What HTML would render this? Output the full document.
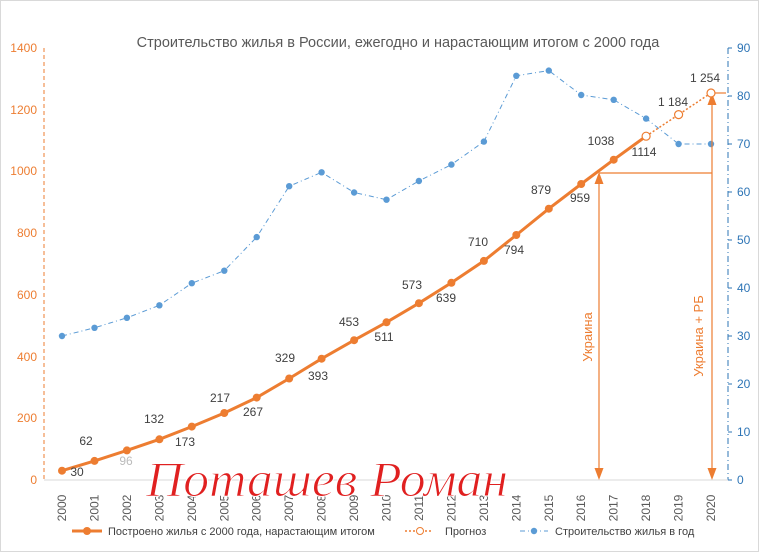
<!DOCTYPE html>
<html><head><meta charset="utf-8"><style>body{margin:0;background:#fff}svg{display:block}</style></head><body>
<svg width="759" height="552" viewBox="0 0 759 552" xmlns="http://www.w3.org/2000/svg" font-family="Liberation Sans, sans-serif">
<rect x="0.5" y="0.5" width="758" height="551" fill="#fff" stroke="#d9d9d9"/>
<text x="398" y="47" text-anchor="middle" font-size="14.5" fill="#595959">Строительство жилья в России, ежегодно и нарастающим итогом с 2000 года</text>
<line x1="44" y1="48" x2="44" y2="480" stroke="#ED7D31" stroke-dasharray="4,3"/>
<line x1="728" y1="48" x2="728" y2="480" stroke="#2E75B6" stroke-dasharray="6,3,1,3"/>
<line x1="44" y1="480" x2="728" y2="480" stroke="#d9d9d9"/>
<g font-size="12" fill="#ED7D31" text-anchor="end">
<text x="37" y="52">1400</text><text x="37" y="114">1200</text><text x="37" y="175">1000</text><text x="37" y="237">800</text><text x="37" y="299">600</text><text x="37" y="361">400</text><text x="37" y="422">200</text><text x="37" y="484">0</text>
</g>
<g font-size="12" fill="#2E75B6">
<text x="737" y="52">90</text><text x="737" y="100">80</text><text x="737" y="148">70</text><text x="737" y="196">60</text><text x="737" y="244">50</text><text x="737" y="292">40</text><text x="737" y="340">30</text><text x="737" y="388">20</text><text x="737" y="436">10</text><text x="737" y="484">0</text>
</g>
<g stroke="#2E75B6"><line x1="728" y1="48" x2="732" y2="48"/><line x1="728" y1="96" x2="732" y2="96"/><line x1="728" y1="144" x2="732" y2="144"/><line x1="728" y1="192" x2="732" y2="192"/><line x1="728" y1="240" x2="732" y2="240"/><line x1="728" y1="288" x2="732" y2="288"/><line x1="728" y1="336" x2="732" y2="336"/><line x1="728" y1="384" x2="732" y2="384"/><line x1="728" y1="432" x2="732" y2="432"/><line x1="728" y1="480" x2="732" y2="480"/></g>
<g font-size="12" fill="#595959" text-anchor="middle">
<text transform="translate(66,508) rotate(-90)">2000</text><text transform="translate(98.5,508) rotate(-90)">2001</text><text transform="translate(131,508) rotate(-90)">2002</text><text transform="translate(163.4,508) rotate(-90)">2003</text><text transform="translate(195.8,508) rotate(-90)">2004</text><text transform="translate(228.3,508) rotate(-90)">2005</text><text transform="translate(260.7,508) rotate(-90)">2006</text><text transform="translate(293.2,508) rotate(-90)">2007</text><text transform="translate(325.6,508) rotate(-90)">2008</text><text transform="translate(358.1,508) rotate(-90)">2009</text><text transform="translate(390.5,508) rotate(-90)">2010</text><text transform="translate(422.9,508) rotate(-90)">2011</text><text transform="translate(455.4,508) rotate(-90)">2012</text><text transform="translate(487.9,508) rotate(-90)">2013</text><text transform="translate(520.3,508) rotate(-90)">2014</text><text transform="translate(552.8,508) rotate(-90)">2015</text><text transform="translate(585.2,508) rotate(-90)">2016</text><text transform="translate(617.7,508) rotate(-90)">2017</text><text transform="translate(650.1,508) rotate(-90)">2018</text><text transform="translate(682.6,508) rotate(-90)">2019</text><text transform="translate(715,508) rotate(-90)">2020</text>
</g>
<polyline fill="none" stroke="#5B9BD5" stroke-width="1" stroke-dasharray="5,3,1,3" points="62,336 94.5,327.8 126.9,317.8 159.4,305.3 191.8,283.2 224.3,270.7 256.7,237.1 289.2,186.2 321.6,172.3 354.1,192.5 386.5,199.7 418.9,181 451.4,164.6 483.9,141.6 516.3,75.8 548.8,70.6 581.2,95 613.7,99.8 646.1,118.6 678.6,144 711,144"/>
<g fill="#5B9BD5"><circle cx="62" cy="336" r="3.2"/><circle cx="94.5" cy="327.8" r="3.2"/><circle cx="126.9" cy="317.8" r="3.2"/><circle cx="159.4" cy="305.3" r="3.2"/><circle cx="191.8" cy="283.2" r="3.2"/><circle cx="224.3" cy="270.7" r="3.2"/><circle cx="256.7" cy="237.1" r="3.2"/><circle cx="289.2" cy="186.2" r="3.2"/><circle cx="321.6" cy="172.3" r="3.2"/><circle cx="354.1" cy="192.5" r="3.2"/><circle cx="386.5" cy="199.7" r="3.2"/><circle cx="418.9" cy="181" r="3.2"/><circle cx="451.4" cy="164.6" r="3.2"/><circle cx="483.9" cy="141.6" r="3.2"/><circle cx="516.3" cy="75.8" r="3.2"/><circle cx="548.8" cy="70.6" r="3.2"/><circle cx="581.2" cy="95" r="3.2"/><circle cx="613.7" cy="99.8" r="3.2"/><circle cx="646.1" cy="118.6" r="3.2"/><circle cx="678.6" cy="144" r="3.2"/><circle cx="711" cy="144" r="3.2"/></g>
<g stroke="#ED7D31" stroke-width="1.2" fill="none">
<line x1="599" y1="180" x2="599" y2="472"/><line x1="599" y1="173" x2="712" y2="173"/>
<line x1="712" y1="100" x2="712" y2="472"/><line x1="712" y1="93" x2="726" y2="93"/>
</g>
<g fill="#ED7D31">
<polygon points="599,172 594.5,184 603.5,184"/><polygon points="599,480 594.5,468 603.5,468"/>
<polygon points="712,93 707.5,105 716.5,105"/><polygon points="712,480 707.5,468 716.5,468"/>
</g>
<text transform="translate(592,337) rotate(-90)" text-anchor="middle" font-size="13" fill="#ED7D31">Украина</text>
<text transform="translate(703,336) rotate(-90)" text-anchor="middle" font-size="13" fill="#ED7D31">Украина + РБ</text>
<polyline fill="none" stroke="#ED7D31" stroke-width="3" points="62,470.7 94.5,460.9 126.9,450.4 159.4,439.3 191.8,426.6 224.3,413 256.7,397.6 289.2,378.5 321.6,358.7 354.1,340.2 386.5,322.3 418.9,303.2 451.4,282.8 483.9,260.9 516.3,235 548.8,208.7 581.2,184 613.7,159.7 646.1,136.2"/>
<polyline fill="none" stroke="#ED7D31" stroke-width="1.5" stroke-dasharray="2,2" points="646.1,136.2 678.6,114.6 711,93"/>
<g fill="#ED7D31"><circle cx="62" cy="470.7" r="4"/><circle cx="94.5" cy="460.9" r="4"/><circle cx="126.9" cy="450.4" r="4"/><circle cx="159.4" cy="439.3" r="4"/><circle cx="191.8" cy="426.6" r="4"/><circle cx="224.3" cy="413" r="4"/><circle cx="256.7" cy="397.6" r="4"/><circle cx="289.2" cy="378.5" r="4"/><circle cx="321.6" cy="358.7" r="4"/><circle cx="354.1" cy="340.2" r="4"/><circle cx="386.5" cy="322.3" r="4"/><circle cx="418.9" cy="303.2" r="4"/><circle cx="451.4" cy="282.8" r="4"/><circle cx="483.9" cy="260.9" r="4"/><circle cx="516.3" cy="235" r="4"/><circle cx="548.8" cy="208.7" r="4"/><circle cx="581.2" cy="184" r="4"/><circle cx="613.7" cy="159.7" r="4"/></g>
<g fill="#fff" stroke="#ED7D31" stroke-width="1.2"><circle cx="646.1" cy="136.2" r="4"/><circle cx="678.6" cy="114.6" r="4"/><circle cx="711" cy="93" r="4"/></g>
<g font-size="12" fill="#404040" text-anchor="middle">
<text x="77" y="476">30</text><text x="86" y="445">62</text><text x="126" y="465" fill="#bbb">96</text><text x="154" y="423">132</text><text x="185" y="446">173</text><text x="220" y="402">217</text><text x="253" y="416">267</text><text x="285" y="362">329</text><text x="318" y="380">393</text><text x="349" y="326">453</text><text x="384" y="341">511</text><text x="412" y="289">573</text><text x="446" y="302">639</text><text x="478" y="246">710</text><text x="514" y="254">794</text><text x="541" y="194">879</text><text x="580" y="202">959</text><text x="601" y="145">1038</text><text x="644" y="156">1114</text><text x="673" y="106">1 184</text><text x="705" y="82">1 254</text>
</g>
<text x="146" y="496" font-family="Liberation Serif, serif" font-style="italic" font-size="50" fill="#e02020" stroke="#fff" stroke-width="1" textLength="362" lengthAdjust="spacingAndGlyphs">Поташев Роман</text>
<line x1="72" y1="531" x2="102" y2="531" stroke="#ED7D31" stroke-width="3"/><circle cx="87" cy="531" r="4" fill="#ED7D31"/>
<text x="108" y="535" font-size="11" fill="#404040">Построено жилья с 2000 года, нарастающим итогом</text>
<line x1="405" y1="531" x2="432" y2="531" stroke="#ED7D31" stroke-width="1.5" stroke-dasharray="2,2"/><circle cx="420" cy="531" r="3.5" fill="#fff" stroke="#ED7D31"/>
<text x="445" y="535" font-size="11" fill="#404040">Прогноз</text>
<line x1="520" y1="531" x2="548" y2="531" stroke="#5B9BD5" stroke-dasharray="5,3,1,3"/><circle cx="534" cy="531" r="3.2" fill="#5B9BD5"/>
<text x="555" y="535" font-size="11" fill="#404040">Строительство жилья в год</text>
</svg>
</body></html>
